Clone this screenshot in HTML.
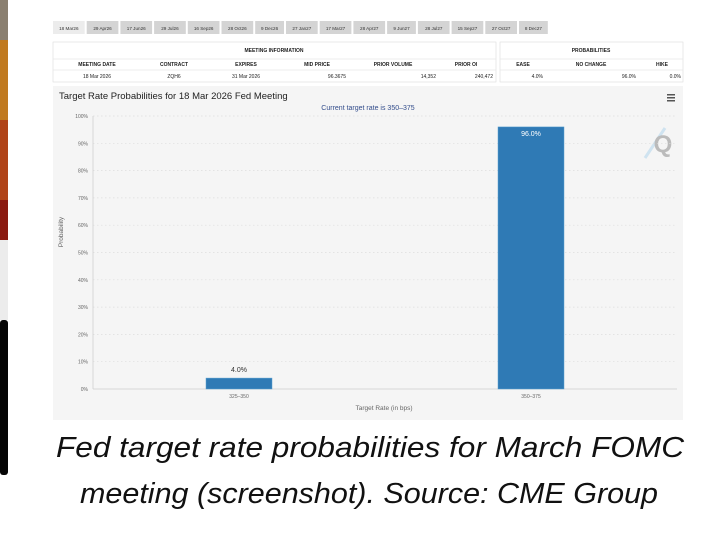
<!DOCTYPE html>
<html><head><meta charset="utf-8">
<style>
body{margin:0;width:720px;height:534px;overflow:hidden;background:#fff;font-family:"Liberation Sans",sans-serif}
svg{display:block}
</style></head>
<body>
<svg id="root" width="720" height="534" viewBox="0 0 720 534">
  <g>
    <rect x="0" y="0" width="8" height="40" fill="#8a7f70"/>
    <rect x="0" y="40" width="8" height="80" fill="#c07a20"/>
    <rect x="0" y="120" width="8" height="80" fill="#b04418"/>
    <rect x="0" y="200" width="8" height="40" fill="#8a1a10"/>
    <rect x="0" y="240" width="8" height="80" fill="#ececec"/>
    <rect x="0" y="320" width="8" height="155" rx="3" fill="#050505"/>
  </g>
  <g id="tabs"></g>
  <g font-size="5" fill="#222" text-anchor="middle">
    <rect x="53" y="42" width="443" height="40" fill="#fff" stroke="#ddd" stroke-width="0.6"/>
    <line x1="53" y1="59" x2="496" y2="59" stroke="#ddd" stroke-width="0.6"/>
    <line x1="53" y1="70" x2="496" y2="70" stroke="#ddd" stroke-width="0.6"/>
    <text x="274" y="52" font-weight="bold">MEETING INFORMATION</text>
    <text x="97" y="66" font-weight="bold">MEETING DATE</text>
    <text x="174" y="66" font-weight="bold">CONTRACT</text>
    <text x="246" y="66" font-weight="bold">EXPIRES</text>
    <text x="317" y="66" font-weight="bold">MID PRICE</text>
    <text x="393" y="66" font-weight="bold">PRIOR VOLUME</text>
    <text x="466" y="66" font-weight="bold">PRIOR OI</text>
    <text x="97" y="78">18 Mar 2026</text>
    <text x="174" y="78">ZQH6</text>
    <text x="246" y="78">31 Mar 2026</text>
    <text x="346" y="78" text-anchor="end">96.3675</text>
    <text x="436" y="78" text-anchor="end">14,352</text>
    <text x="493" y="78" text-anchor="end">240,472</text>
  </g>
  <g font-size="5" fill="#222" text-anchor="middle">
    <rect x="500" y="42" width="183" height="40" fill="#fff" stroke="#ddd" stroke-width="0.6"/>
    <line x1="500" y1="59" x2="683" y2="59" stroke="#ddd" stroke-width="0.6"/>
    <line x1="500" y1="70" x2="683" y2="70" stroke="#ddd" stroke-width="0.6"/>
    <text x="591" y="52" font-weight="bold">PROBABILITIES</text>
    <text x="523" y="66" font-weight="bold">EASE</text>
    <text x="591" y="66" font-weight="bold">NO CHANGE</text>
    <text x="662" y="66" font-weight="bold">HIKE</text>
    <text x="543" y="78" text-anchor="end">4.0%</text>
    <text x="636" y="78" text-anchor="end">96.0%</text>
    <text x="681" y="78" text-anchor="end">0.0%</text>
  </g>
  <rect x="53" y="86" width="630" height="334" fill="#f5f5f5"/>
  <text x="59" y="99" font-size="9.5" fill="#222">Target Rate Probabilities for 18 Mar 2026 Fed Meeting</text>
  <g fill="#555">
    <rect x="667" y="94" width="8" height="1.5"/><rect x="667" y="97" width="8" height="1.5"/><rect x="667" y="100" width="8" height="1.5"/>
  </g>
  <text x="368" y="110" font-size="7" fill="#334d8c" text-anchor="middle">Current target rate is 350–375</text>
  <g>
    <line x1="645" y1="158" x2="665" y2="128" stroke="#cfe3f0" stroke-width="3"/>
    <text x="663" y="152" font-size="24" fill="#bbb" font-weight="bold" text-anchor="middle">Q</text>
  </g>
  <g id="grid"></g>
  <g id="bars"></g>
  <text x="21" y="0" transform="translate(63,253) rotate(-90)" font-size="6.5" fill="#666" text-anchor="middle">Probability</text>
  <text x="384" y="410" font-size="6.5" fill="#666" text-anchor="middle">Target Rate (in bps)</text>
  <g font-style="italic" font-size="29" fill="#111" text-anchor="middle">
    <text x="370" y="457" textLength="628" lengthAdjust="spacingAndGlyphs">Fed target rate probabilities for March FOMC</text>
    <text x="369" y="503" textLength="578" lengthAdjust="spacingAndGlyphs">meeting (screenshot). Source: CME Group</text>
  </g>
</svg>
<script>
const tabLabels = ["18 Mar26","29 Apr26","17 Jun26","29 Jul26","16 Sep26","28 Oct26","9 Dec26","27 Jan27","17 Mar27","28 Apr27","9 Jun27","28 Jul27","15 Sep27","27 Oct27","8 Dec27"];
const categories = ["325–350","350–375"];
const probabilities = [4.0, 96.0];
const valueLabels = ["4.0%","96.0%"];
const yTicks = [0,10,20,30,40,50,60,70,80,90,100];

const NS="http://www.w3.org/2000/svg";
function mk(tag, attrs, parent){const e=document.createElementNS(NS,tag);for(const k in attrs)e.setAttribute(k,attrs[k]);parent.appendChild(e);return e;}

const tabsG=document.getElementById('tabs');
let tx=53;
tabLabels.forEach((l,i)=>{
  const w = l.length*2.9+8.5;
  const r=mk('rect',{x:tx,y:21,width:w,height:13,fill:i===0?'#ececec':'#d4d4d4'},tabsG);
  
  
  const t=mk('text',{x:tx+w/2,y:30,'font-size':4.6,'text-anchor':'middle',fill:'#333'},tabsG);
  t.textContent=l;
  tx+=w+2;
});

const plotL=93, plotR=677, y0=389, y100=116;
const yScale=v=>y0-(v/100)*(y0-y100);
const band=(plotR-plotL)/categories.length;
const xCenter=i=>plotL+band*(i+0.5);

const grid=document.getElementById('grid');
yTicks.forEach(v=>{
  const y=yScale(v);
  const ln=mk('line',{x1:plotL,x2:plotR,y1:y,y2:y,stroke:v===0?'#ccc':'#ddd','stroke-width':0.7,'stroke-dasharray':v===0?'':'1.5,2.5'},grid);
  
  
  const t=mk('text',{x:plotL-5,y:y+2,'font-size':5,'text-anchor':'end',fill:'#666'},grid);
  
  
  t.textContent=v+'%';
});
mk('line',{x1:plotL,x2:plotL,y1:y100,y2:y0,stroke:'#ccc','stroke-width':0.7},grid);

const bars=document.getElementById('bars');
categories.forEach((c,i)=>{
  const cx=xCenter(i), w=66, y=yScale(probabilities[i]);
  const b=mk('rect',{x:cx-w/2,y:y,width:w,height:y0-y,fill:'#2f7ab5',stroke:'#5aa0d0','stroke-width':0.5},bars);
  
  
  const inside=probabilities[i]>50;
  const vl=mk('text',{x:cx,y:inside?y+9:y-6,'font-size':7,'text-anchor':'middle',fill:inside?'#fff':'#333'},bars);
  
  
  vl.textContent=valueLabels[i];
  const xl=mk('text',{x:cx,y:y0+9,'font-size':5,'text-anchor':'middle',fill:'#666'},bars);
  
  
  xl.textContent=c;
});
</script>
</body></html>
